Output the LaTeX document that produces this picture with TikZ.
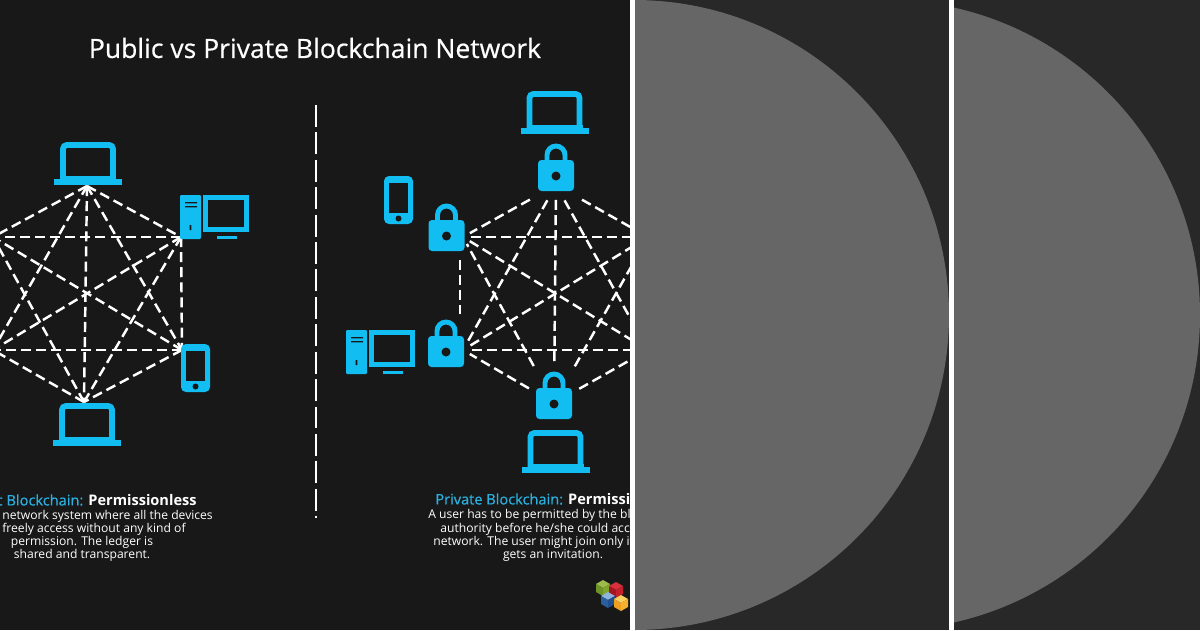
\documentclass[tikz,border=0pt]{standalone}
\usepackage{fontspec}
\setmainfont{Open Sans}
\newfontfamily\semifont[FakeBold=0.5]{Open Sans}
\usepackage{xcolor}
\usetikzlibrary{positioning}
\definecolor{panelbg}{HTML}{181818}
\definecolor{sidebg}{HTML}{282828}
\definecolor{discgray}{HTML}{666666}
\definecolor{iconblue}{HTML}{12BDF2}
\definecolor{headblue}{HTML}{2BB0E0}
\definecolor{cubegreenA}{HTML}{9DBB4A}
\definecolor{cubegreenB}{HTML}{6E9428}
\definecolor{cubegreenC}{HTML}{7FA52E}
\definecolor{cubeRedA}{HTML}{D8303C}
\definecolor{cubeRedB}{HTML}{A5151F}
\definecolor{cubeRedC}{HTML}{C4202C}
\definecolor{cubeblueA}{HTML}{8FB4DE}
\definecolor{cubeblueB}{HTML}{2A5F9E}
\definecolor{cubeblueC}{HTML}{1F4F8C}
\definecolor{cubeyellowA}{HTML}{FAD060}
\definecolor{cubeyellowB}{HTML}{F0A020}
\definecolor{cubeyellowC}{HTML}{F5B030}
\newcommand{\logocube}[4]{
    \begin{scope}[shift={#1}]
        \fill[#2] (0,-8) -- (7,-4) -- (0,0) -- (-7,-4) -- cycle;
        \fill[#3] (-7,-4) -- (0,0) -- (0,8) -- (-7,4) -- cycle;
        \fill[#4] (7,-4) -- (0,0) -- (0,8) -- (7,4) -- cycle;
    \end{scope}
}
\tikzset{
    netlink/.style={draw=white, line width=1.4pt, dash pattern=on 5.7pt off 2.9pt},
    splitline/.style={draw=white, line width=1.4pt, dash pattern=on 12.5pt off 3.1pt},
    titletext/.style={text=white, font=\semifont\fontsize{15.1}{18}\selectfont, inner sep=0pt},
    headtext/.style={text=white, font=\fontsize{8.3}{10}\selectfont, inner sep=0pt},
    bodytext/.style={text=white, font=\fontsize{6.9}{8}\selectfont, inner sep=0pt},
    laptop/.pic={
        \draw[iconblue, line width=3.3pt, rounded corners=2.2pt] (-25,0) -- (-25,-34) -- (25,-34) -- (25,0);
        \fill[iconblue] (-34,0) rectangle (34,6);
        \fill[iconblue] (-28,-3) rectangle (28,0);
    },
    desktop/.pic={
        \fill[iconblue, rounded corners=0.6pt] (0,0) rectangle (21,44);
        \fill[panelbg] (5,7) rectangle (17,8.3) (5,11) rectangle (17,12.3) (9.7,30) rectangle (11.3,35);
        \draw[iconblue, line width=2.6pt] (25.5,2.3) rectangle (66.5,34.7);
        \fill[iconblue] (37,41) rectangle (57,44);
    },
    phone/.pic={
        \fill[iconblue, rounded corners=2.8pt] (0,0) rectangle (29,48);
        \fill[panelbg] (5,7) rectangle (24,37);
        \fill[panelbg] (14.5,42.5) circle (3);
    },
    padlock/.pic={
        \draw[iconblue, line width=2.8pt] (-9,1) -- (-9,-5) arc[start angle=180, end angle=360, radius=9] -- (9,1);
        \fill[iconblue, rounded corners=2pt] (-18,0) rectangle (18,31);
        \fill[panelbg] (0,16) circle (4.5);
    }
}

\begin{document}
\begin{tikzpicture}[x=0.02cm, y=-0.02cm]
    \path[use as bounding box] (0,0) rectangle (1200,630);
    \clip (0,0) rectangle (1200,630);
    \fill[sidebg] (0,0) rectangle (1200,630);

    % grey discs
    \begin{scope}
        \clip (634,0) rectangle (949,630);
        \fill[discgray] (634,315) circle (315);
    \end{scope}
    \begin{scope}
        \clip (953,0) rectangle (1200,630);
        \fill[discgray] (885,315) circle (315);
    \end{scope}
    \fill[white] (630,0) rectangle (634.5,630);
    \fill[white] (949,0) rectangle (953.5,630);

    \begin{scope}
        \clip (0,0) rectangle (630,630);
        \fill[panelbg] (0,0) rectangle (630,630);

        \node[titletext] (title) at (315,48) {Public vs Private Blockchain Network};

        \coordinate (splitA) at (316,105);
        \coordinate (splitB) at (316,518);
        \draw[splitline] (splitA) -- (splitB);

        % public network
        \coordinate (pT) at (87,186);
        \coordinate (pRU) at (181,237);
        \coordinate (pRL) at (182,350);
        \coordinate (pB) at (84,402);
        \coordinate (pLU) at (-7,237);
        \coordinate (pLL) at (-7,350);

        \foreach \a/\b in {pT/pRU, pT/pRL, pT/pB, pT/pLU, pT/pLL,
                           pRU/pRL, pRU/pB, pRU/pLU, pRU/pLL,
                           pRL/pB, pRL/pLU, pRL/pLL,
                           pB/pLU, pB/pLL}
            \draw[netlink] (\a) -- (\b);

        \pic at (88,179) {laptop};
        \pic at (87,440) {laptop};
        \pic at (180,195) {desktop};
        \pic at (181,344) {phone};

        % private network
        \coordinate (rT) at (556,185);
        \coordinate (rB) at (554,403);
        \coordinate (rUL) at (463,237);
        \coordinate (rLL) at (463,350);
        \coordinate (rUR) at (648,237);
        \coordinate (rLR) at (648,350);
        \coordinate (rGapA) at (460,260);
        \coordinate (rGapB) at (460,314);

        \foreach \a/\b/\sa/\sb in {rT/rUL/17/4.5, rT/rUR/17/4.5, rT/rLL/10/4.5, rT/rLR/10/4.5, rT/rB/8.5/22,
                                   rB/rUL/24/4.5, rB/rUR/24/4.5, rB/rLL/16.5/4.5, rB/rLR/16.5/4.5,
                                   rUL/rUR/4.5/0, rUL/rLR/4.5/0, rLL/rUR/5/0, rLL/rLR/5/0}
            \draw[netlink, shorten <=\sa pt, shorten >=\sb pt] (\a) -- (\b);
        \draw[netlink] (rGapA) -- (rGapB);

        \pic at (554.5,128) {laptop};
        \pic at (555.5,467) {laptop};
        \pic at (346,330) {desktop};
        \pic at (384,176) {phone};
        \pic at (556,160) {padlock};
        \pic at (446.5,220) {padlock};
        \pic at (446,336) {padlock};
        \pic at (554,388) {padlock};

        % captions
        \node[headtext, anchor=east] (pubhead) at (197,500) {\textcolor{headblue}{\semifont Public Blockchain:} \textbf{Permissionless}};
        \node[bodytext, anchor=west] (publine1) at (2,516) {network system where all the devices};
        \node[bodytext, anchor=west] (publine2) at (2,529) {freely access without any kind of};
        \node[bodytext] (publine3) at (82,542) {permission. The ledger is};
        \node[bodytext] (publine4) at (82,555) {shared and transparent.};

        \node[headtext, anchor=west] (privhead) at (435,499) {\textcolor{headblue}{\semifont Private Blockchain:} \textbf{Permissioned}};
        \node[bodytext, anchor=west] (privline1) at (428,515) {A user has to be permitted by the blockchain};
        \node[bodytext, anchor=west] (privline2) at (440,529) {authority before he/she could access};
        \node[bodytext, anchor=west] (privline3) at (433,542) {network. The user might join only if};
        \node[bodytext] (privline4) at (553,555) {gets an invitation.};

        % logo
        \logocube{(603,588)}{cubegreenA}{cubegreenB}{cubegreenC}
        \logocube{(616,590)}{cubeRedA}{cubeRedB}{cubeRedC}
        \logocube{(608,600)}{cubeblueA}{cubeblueB}{cubeblueC}
        \logocube{(621,603)}{cubeyellowA}{cubeyellowB}{cubeyellowC}
    \end{scope}
\end{tikzpicture}
\end{document}
